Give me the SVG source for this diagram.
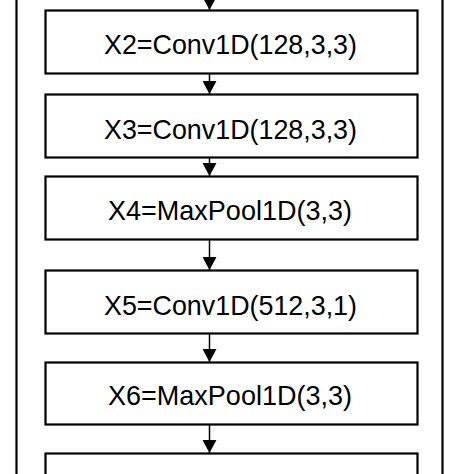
<svg xmlns="http://www.w3.org/2000/svg" width="474" height="474" viewBox="0 0 474 474">
<style>
.frame{fill:none;stroke:#000;stroke-width:2.2}
.box{fill:#fff;stroke:#000;stroke-width:2.2}
.lbl{font-family:"Liberation Sans",Arial,sans-serif;font-size:28px;fill:#000;text-anchor:middle}
.conn{stroke:#000;stroke-width:1.5;fill:none;marker-end:url(#ah)}
</style>
<defs>
<marker id="ah" viewBox="0 0 13 14" refX="13" refY="7" markerWidth="13" markerHeight="14" markerUnits="userSpaceOnUse" orient="auto">
<path d="M0,0 L13,7 L0,14 Z" fill="#000"/>
</marker>
</defs>
<rect width="474" height="474" fill="#fff"/>
<g id="frame">
<line class="frame" x1="16.5" y1="0" x2="16.5" y2="474"/>
<line class="frame" x1="442.5" y1="0" x2="442.5" y2="474"/>
</g>
<g id="connectors">
<line class="conn" x1="209.5" y1="-6" x2="209.5" y2="10"/>
<line class="conn" x1="209.5" y1="74" x2="209.5" y2="94"/>
<line class="conn" x1="209.5" y1="158" x2="209.5" y2="176"/>
<line class="conn" x1="209.5" y1="240" x2="209.5" y2="270"/>
<line class="conn" x1="209.5" y1="334" x2="209.5" y2="362"/>
<line class="conn" x1="209.5" y1="425" x2="209.5" y2="453"/>
</g>
<g id="x2">
<rect class="box" x="45.5" y="10.5" width="372" height="63"/>
<text class="lbl" x="230.5" y="54.3" textLength="253" lengthAdjust="spacingAndGlyphs">X2=Conv1D(128,3,3)</text>
</g>
<g id="x3">
<rect class="box" x="45.5" y="94.5" width="372" height="63"/>
<text class="lbl" x="230.5" y="139.3" textLength="253" lengthAdjust="spacingAndGlyphs">X3=Conv1D(128,3,3)</text>
</g>
<g id="x4">
<rect class="box" x="45.5" y="176.5" width="372" height="63"/>
<text class="lbl" x="230" y="219.5" textLength="244" lengthAdjust="spacingAndGlyphs">X4=MaxPool1D(3,3)</text>
</g>
<g id="x5">
<rect class="box" x="45.5" y="270.5" width="372" height="63"/>
<text class="lbl" x="230.5" y="315" textLength="253" lengthAdjust="spacingAndGlyphs">X5=Conv1D(512,3,1)</text>
</g>
<g id="x6">
<rect class="box" x="45.5" y="362.5" width="372" height="62"/>
<text class="lbl" x="230" y="405" textLength="244" lengthAdjust="spacingAndGlyphs">X6=MaxPool1D(3,3)</text>
</g>
<g id="x7">
<rect class="box" x="45.5" y="453.5" width="372" height="40"/>
</g>
</svg>
